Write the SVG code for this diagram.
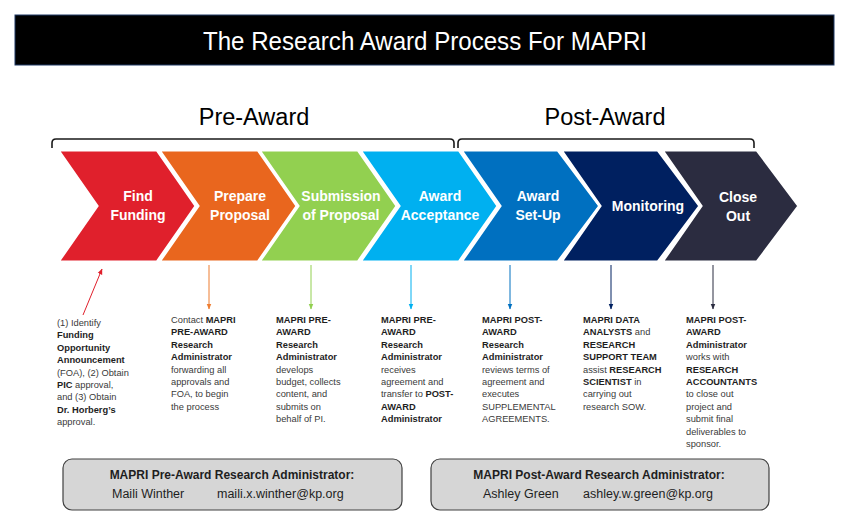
<svg xmlns="http://www.w3.org/2000/svg" width="851" height="528" viewBox="0 0 851 528">
<style>
.t{font-family:"Liberation Sans",Arial,sans-serif}
.lab{font-family:"Liberation Sans",Arial,sans-serif;font-weight:bold;font-size:14px;fill:#fff;text-anchor:middle}
.blk{font-family:"Liberation Sans",Arial,sans-serif;font-size:9.3px;fill:#3a3a3a}
.b{font-weight:bold;fill:#1e1e1e}
.chev{stroke:#fff;stroke-width:3;stroke-linejoin:miter}
.br{fill:none;stroke:#1a1a1a;stroke-width:1.6}
.box{fill:#d6d6d6;stroke:#404040;stroke-width:1.2}
.bt{font-family:"Liberation Sans",Arial,sans-serif;fill:#1e1e1e}
</style>
<defs>
<marker id="mR" viewBox="0 0 10 10" refX="9" refY="5" markerWidth="6" markerHeight="6" orient="auto"><path d="M0,1 L10,5 L0,9 Z" fill="#e0202c"/></marker>
<marker id="mO" viewBox="0 0 10 10" refX="9" refY="5" markerWidth="6" markerHeight="6" orient="auto"><path d="M0,1 L10,5 L0,9 Z" fill="#ed7d31"/></marker>
<marker id="mG" viewBox="0 0 10 10" refX="9" refY="5" markerWidth="6" markerHeight="6" orient="auto"><path d="M0,1 L10,5 L0,9 Z" fill="#92d050"/></marker>
<marker id="mL" viewBox="0 0 10 10" refX="9" refY="5" markerWidth="6" markerHeight="6" orient="auto"><path d="M0,1 L10,5 L0,9 Z" fill="#00b0f0"/></marker>
<marker id="mB" viewBox="0 0 10 10" refX="9" refY="5" markerWidth="6" markerHeight="6" orient="auto"><path d="M0,1 L10,5 L0,9 Z" fill="#0070c0"/></marker>
<marker id="mN" viewBox="0 0 10 10" refX="9" refY="5" markerWidth="6" markerHeight="6" orient="auto"><path d="M0,1 L10,5 L0,9 Z" fill="#002060"/></marker>
<marker id="mD" viewBox="0 0 10 10" refX="9" refY="5" markerWidth="6" markerHeight="6" orient="auto"><path d="M0,1 L10,5 L0,9 Z" fill="#2b2c40"/></marker>
</defs>
<rect width="851" height="528" fill="#fff"/>

<g id="title">
<rect x="15" y="15" width="819" height="50" fill="#000" stroke="#1f3864" stroke-width="1"/>
<text class="t" x="425" y="50" font-size="26" fill="#fff" text-anchor="middle" textLength="444" lengthAdjust="spacingAndGlyphs">The Research Award Process For MAPRI</text>
</g>

<g id="phase-headers">
<text class="t" x="254" y="125" font-size="23.5" fill="#000" text-anchor="middle">Pre-Award</text>
<text class="t" x="605" y="125" font-size="23.5" fill="#000" text-anchor="middle">Post-Award</text>
<path class="br" d="M52,148 L52,143 Q52,139 56,139 L450,139 Q454,139 454,143 L454,148"/>
<path class="br" d="M458,148 L458,143 Q458,139 462,139 L750,139 Q754,139 754,143 L754,148"/>
</g>

<g id="chevron-find">
<path class="chev" fill="#e0202c" d="M58,150 L157,150 L196,206 L157,262 L58,262 L97,206 Z"/>
<text class="lab" x="138" y="201">Find</text>
<text class="lab" x="138" y="220">Funding</text>
</g>
<g id="chevron-prepare">
<path class="chev" fill="#e9661e" d="M159,150 L258,150 L297,206 L258,262 L159,262 L198,206 Z"/>
<text class="lab" x="240" y="201">Prepare</text>
<text class="lab" x="240" y="220">Proposal</text>
</g>
<g id="chevron-submission">
<path class="chev" fill="#92d050" d="M259,150 L358,150 L397,206 L358,262 L259,262 L298,206 Z"/>
<text class="lab" x="341" y="201">Submission</text>
<text class="lab" x="341" y="220">of Proposal</text>
</g>
<g id="chevron-acceptance">
<path class="chev" fill="#00b0f0" d="M360,150 L459,150 L498,206 L459,262 L360,262 L399,206 Z"/>
<text class="lab" x="440" y="201">Award</text>
<text class="lab" x="440" y="220">Acceptance</text>
</g>
<g id="chevron-setup">
<path class="chev" fill="#0070c0" d="M461,150 L558,150 L600,206 L558,262 L461,262 L500,206 Z"/>
<text class="lab" x="538" y="201">Award</text>
<text class="lab" x="538" y="220">Set-Up</text>
</g>
<g id="chevron-monitoring">
<path class="chev" fill="#002060" d="M561,150 L658,150 L700,206 L658,262 L561,262 L600,206 Z"/>
<text class="lab" x="648" y="211">Monitoring</text>
</g>
<g id="chevron-closeout">
<path class="chev" fill="#2b2c40" d="M662,150 L757,150 L799,206 L757,262 L662,262 L701,206 Z"/>
<text class="lab" x="738" y="202">Close</text>
<text class="lab" x="738" y="221">Out</text>
</g>

<g id="connectors" stroke-width="1" fill="none">
<line x1="83" y1="315" x2="102" y2="269" stroke="#e0202c" marker-end="url(#mR)"/>
<line x1="209" y1="265" x2="209" y2="309" stroke="#ed7d31" marker-end="url(#mO)"/>
<line x1="311" y1="265" x2="311" y2="309" stroke="#92d050" marker-end="url(#mG)"/>
<line x1="411" y1="265" x2="411" y2="309" stroke="#00b0f0" marker-end="url(#mL)"/>
<line x1="510" y1="265" x2="510" y2="309" stroke="#0070c0" marker-end="url(#mB)"/>
<line x1="611" y1="265" x2="611" y2="309" stroke="#002060" marker-end="url(#mN)"/>
<line x1="713" y1="265" x2="713" y2="309" stroke="#2b2c40" marker-end="url(#mD)"/>
</g>

<g id="text-find">
<text class="blk" x="57" y="326">
<tspan x="57">(1) Identify</tspan>
<tspan x="57" dy="12.4" class="b">Funding</tspan>
<tspan x="57" dy="12.4" class="b">Opportunity</tspan>
<tspan x="57" dy="12.4" class="b">Announcement</tspan>
<tspan x="57" dy="12.4">(FOA), (2) Obtain</tspan>
<tspan x="57" dy="12.4"><tspan class="b">PIC</tspan> approval,</tspan>
<tspan x="57" dy="12.4">and (3) Obtain</tspan>
<tspan x="57" dy="12.4" class="b">Dr. Horberg’s</tspan>
<tspan x="57" dy="12.4">approval.</tspan>
</text>
</g>
<g id="text-prepare">
<text class="blk" x="171" y="323">
<tspan x="171">Contact <tspan class="b">MAPRI</tspan></tspan>
<tspan x="171" dy="12.4" class="b">PRE-AWARD</tspan>
<tspan x="171" dy="12.4" class="b">Research</tspan>
<tspan x="171" dy="12.4" class="b">Administrator</tspan>
<tspan x="171" dy="12.4">forwarding all</tspan>
<tspan x="171" dy="12.4">approvals and</tspan>
<tspan x="171" dy="12.4">FOA, to begin</tspan>
<tspan x="171" dy="12.4">the process</tspan>
</text>
</g>
<g id="text-submission">
<text class="blk" x="276" y="323">
<tspan x="276" class="b">MAPRI PRE-</tspan>
<tspan x="276" dy="12.4" class="b">AWARD</tspan>
<tspan x="276" dy="12.4" class="b">Research</tspan>
<tspan x="276" dy="12.4" class="b">Administrator</tspan>
<tspan x="276" dy="12.4">develops</tspan>
<tspan x="276" dy="12.4">budget, collects</tspan>
<tspan x="276" dy="12.4">content, and</tspan>
<tspan x="276" dy="12.4">submits on</tspan>
<tspan x="276" dy="12.4">behalf of PI.</tspan>
</text>
</g>
<g id="text-acceptance">
<text class="blk" x="381" y="323">
<tspan x="381" class="b">MAPRI PRE-</tspan>
<tspan x="381" dy="12.4" class="b">AWARD</tspan>
<tspan x="381" dy="12.4" class="b">Research</tspan>
<tspan x="381" dy="12.4" class="b">Administrator</tspan>
<tspan x="381" dy="12.4">receives</tspan>
<tspan x="381" dy="12.4">agreement and</tspan>
<tspan x="381" dy="12.4">transfer to <tspan class="b">POST-</tspan></tspan>
<tspan x="381" dy="12.4" class="b">AWARD</tspan>
<tspan x="381" dy="12.4" class="b">Administrator</tspan>
</text>
</g>
<g id="text-setup">
<text class="blk" x="482" y="323">
<tspan x="482" class="b">MAPRI POST-</tspan>
<tspan x="482" dy="12.4" class="b">AWARD</tspan>
<tspan x="482" dy="12.4" class="b">Research</tspan>
<tspan x="482" dy="12.4" class="b">Administrator</tspan>
<tspan x="482" dy="12.4">reviews terms of</tspan>
<tspan x="482" dy="12.4">agreement and</tspan>
<tspan x="482" dy="12.4">executes</tspan>
<tspan x="482" dy="12.4">SUPPLEMENTAL</tspan>
<tspan x="482" dy="12.4">AGREEMENTS.</tspan>
</text>
</g>
<g id="text-monitoring">
<text class="blk" x="583" y="323">
<tspan x="583" class="b">MAPRI DATA</tspan>
<tspan x="583" dy="12.4"><tspan class="b">ANALYSTS</tspan> and</tspan>
<tspan x="583" dy="12.4" class="b">RESEARCH</tspan>
<tspan x="583" dy="12.4" class="b">SUPPORT TEAM</tspan>
<tspan x="583" dy="12.4">assist <tspan class="b">RESEARCH</tspan></tspan>
<tspan x="583" dy="12.4"><tspan class="b">SCIENTIST</tspan> in</tspan>
<tspan x="583" dy="12.4">carrying out</tspan>
<tspan x="583" dy="12.4">research SOW.</tspan>
</text>
</g>
<g id="text-closeout">
<text class="blk" x="686" y="323">
<tspan x="686" class="b">MAPRI POST-</tspan>
<tspan x="686" dy="12.4" class="b">AWARD</tspan>
<tspan x="686" dy="12.4" class="b">Administrator</tspan>
<tspan x="686" dy="12.4">works with</tspan>
<tspan x="686" dy="12.4" class="b">RESEARCH</tspan>
<tspan x="686" dy="12.4" class="b">ACCOUNTANTS</tspan>
<tspan x="686" dy="12.4">to close out</tspan>
<tspan x="686" dy="12.4">project and</tspan>
<tspan x="686" dy="12.4">submit final</tspan>
<tspan x="686" dy="12.4">deliverables to</tspan>
<tspan x="686" dy="12.4">sponsor.</tspan>
</text>
</g>

<g id="contact-pre">
<rect class="box" x="63" y="459" width="339" height="51" rx="9"/>
<text class="bt" x="232" y="479" font-size="12" font-weight="bold" text-anchor="middle">MAPRI Pre-Award Research Administrator:</text>
<text class="bt" x="112" y="498" font-size="12.5">Maili Winther</text>
<text class="bt" x="217" y="498" font-size="12.5">maili.x.winther@kp.org</text>
</g>
<g id="contact-post">
<rect class="box" x="431" y="459" width="338" height="51" rx="9"/>
<text class="bt" x="599" y="479" font-size="12" font-weight="bold" text-anchor="middle">MAPRI Post-Award Research Administrator:</text>
<text class="bt" x="483" y="498" font-size="12.5">Ashley Green</text>
<text class="bt" x="583" y="498" font-size="12.5">ashley.w.green@kp.org</text>
</g>
</svg>
